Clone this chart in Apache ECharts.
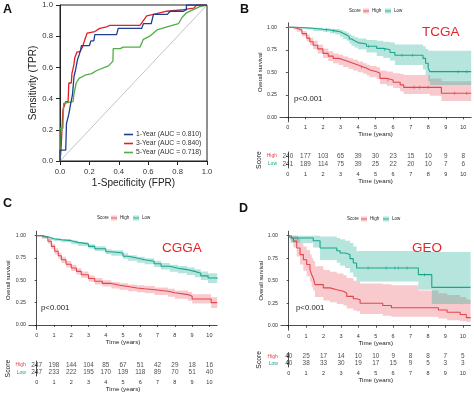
<!DOCTYPE html>
<html><head><meta charset="utf-8">
<script src="https://cdn.jsdelivr.net/npm/echarts@6/dist/echarts.min.js"></script>
<style>html,body{margin:0;padding:0;background:#fff}#c{width:474px;height:394px}</style>
</head><body><div id="c"></div>
<script>
// ---------- Panel A: ROC ----------
const rocNames = ['1-Year (AUC = 0.810)', '3-Year (AUC = 0.840)', '5-Year (AUC = 0.718)'];
const fpr1 = [0, 0, 0.039, 0.044, 0.06, 0.073, 0.084, 0.089, 0.095, 0.105, 0.119, 0.13, 0.14, 0.146, 0.2, 0.21, 0.23, 0.237, 0.385, 0.396, 0.556, 0.567, 0.62, 0.636, 0.73, 0.75, 0.84, 0.86, 0.86, 1];
const tpr1 = [0, 0.07, 0.07, 0.24, 0.30, 0.37, 0.42, 0.47, 0.54, 0.58, 0.65, 0.68, 0.71, 0.74, 0.74, 0.77, 0.77, 0.81, 0.81, 0.85, 0.85, 0.88, 0.88, 0.94, 0.94, 0.96, 0.96, 0.97, 1, 1];
const fpr3 = [0, 0.007, 0.015, 0.02, 0.039, 0.055, 0.06, 0.077, 0.081, 0.095, 0.1, 0.116, 0.134, 0.153, 0.17, 0.185, 0.237, 0.25, 0.27, 0.317, 0.34, 0.544, 0.567, 0.59, 0.636, 0.727, 0.84, 0.91, 0.93, 1];
const tpr3 = [0, 0.07, 0.07, 0.33, 0.38, 0.38, 0.5, 0.5, 0.56, 0.62, 0.66, 0.7, 0.7, 0.73, 0.78, 0.82, 0.83, 0.84, 0.85, 0.86, 0.87, 0.87, 0.9, 0.93, 0.94, 0.96, 0.97, 0.98, 1, 1];
const fpr5 = [0, 0, 0.02, 0.025, 0.034, 0.089, 0.095, 0.11, 0.13, 0.17, 0.215, 0.25, 0.33, 0.36, 0.362, 0.41, 0.43, 0.544, 0.567, 0.61, 0.66, 0.727, 0.806, 0.83, 0.86, 0.95, 1];
const tpr5 = [0, 0.21, 0.21, 0.37, 0.38, 0.38, 0.43, 0.50, 0.53, 0.55, 0.56, 0.58, 0.61, 0.64, 0.72, 0.72, 0.73, 0.73, 0.78, 0.8, 0.84, 0.86, 0.88, 0.92, 0.95, 0.99, 1];

// ---------- KM shared ----------
const years = [0, 1, 2, 3, 4, 5, 6, 7, 8, 9, 10];
const survTicks = [0, 0.25, 0.5, 0.75, 1];

// ---------- Panel B: TCGA ----------
const tcgaHighT = [0, 0.3, 0.5, 0.8, 1.07, 1.25, 1.44, 1.7, 2.0, 2.3, 2.58, 2.9, 3.15, 3.45, 3.72, 4.0, 4.29, 4.5, 4.68, 5.06, 5.25, 5.63, 6.0, 6.4, 6.6, 8.1, 8.75, 10.45];
const tcgaHighS = [1, 0.99, 0.97, 0.93, 0.88, 0.84, 0.80, 0.76, 0.71, 0.68, 0.655, 0.64, 0.62, 0.60, 0.58, 0.56, 0.544, 0.525, 0.507, 0.49, 0.433, 0.414, 0.39, 0.36, 0.333, 0.333, 0.267, 0.267];
const tcgaHighLo = [1, 0.975, 0.95, 0.90, 0.845, 0.80, 0.755, 0.71, 0.66, 0.625, 0.60, 0.58, 0.56, 0.54, 0.52, 0.50, 0.485, 0.465, 0.445, 0.425, 0.37, 0.35, 0.325, 0.29, 0.26, 0.24, 0.18, 0.17];
const tcgaHighHi = [1, 1, 0.99, 0.96, 0.92, 0.885, 0.85, 0.81, 0.765, 0.735, 0.71, 0.695, 0.675, 0.655, 0.64, 0.62, 0.60, 0.585, 0.57, 0.555, 0.52, 0.51, 0.49, 0.48, 0.47, 0.43, 0.40, 0.40];
const tcgaHighCens = [4.2, 5.7, 7.2, 7.5, 8.0, 9.5, 10.2];
const tcgaLowT = [0, 0.5, 1.0, 1.44, 2.0, 2.4, 2.7, 2.97, 3.15, 3.35, 3.5, 3.63, 3.8, 4.0, 4.48, 5.06, 5.44, 5.82, 6.1, 7.7, 7.85, 8.0, 8.1, 10.45];
const tcgaLowS = [1, 0.995, 0.99, 0.978, 0.97, 0.96, 0.95, 0.933, 0.915, 0.896, 0.87, 0.85, 0.83, 0.815, 0.79, 0.766, 0.75, 0.72, 0.69, 0.655, 0.60, 0.544, 0.507, 0.507];
const tcgaLowLo = [1, 0.985, 0.975, 0.96, 0.95, 0.935, 0.92, 0.895, 0.87, 0.85, 0.82, 0.795, 0.775, 0.755, 0.72, 0.68, 0.66, 0.63, 0.58, 0.53, 0.47, 0.40, 0.36, 0.36];
const tcgaLowHi = [1, 1, 1, 0.995, 0.99, 0.985, 0.98, 0.97, 0.955, 0.94, 0.92, 0.905, 0.89, 0.875, 0.86, 0.85, 0.84, 0.83, 0.81, 0.79, 0.76, 0.74, 0.74, 0.74];
const tcgaLowCens = [2.2, 2.6, 4.6, 5.5, 6.5, 7.1, 9.7, 10.2];
const tcgaRiskHigh = [240, 177, 103, 65, 39, 30, 23, 15, 10, 9, 8];
const tcgaRiskLow = [241, 189, 114, 75, 39, 25, 22, 20, 10, 7, 6];

// ---------- Panel C: CGGA ----------
const cggaHighT = [0, 0.3, 0.65, 0.85, 1.04, 1.25, 1.43, 1.7, 2.0, 2.3, 2.58, 3.0, 3.36, 3.8, 4.32, 4.8, 5.29, 5.8, 6.25, 6.83, 7.6, 8.0, 8.76, 9.0, 10.1, 10.45];
const cggaHighS = [1, 0.98, 0.937, 0.88, 0.825, 0.775, 0.73, 0.68, 0.638, 0.60, 0.563, 0.52, 0.489, 0.465, 0.444, 0.43, 0.414, 0.405, 0.395, 0.377, 0.36, 0.34, 0.32, 0.29, 0.25, 0.25];
const cggaHighHi = [1, 0.995, 0.96, 0.91, 0.86, 0.81, 0.765, 0.715, 0.673, 0.635, 0.598, 0.555, 0.525, 0.50, 0.48, 0.466, 0.452, 0.445, 0.436, 0.42, 0.405, 0.387, 0.37, 0.345, 0.31, 0.31];
const cggaHighLo = [1, 0.965, 0.91, 0.85, 0.79, 0.74, 0.695, 0.645, 0.603, 0.565, 0.528, 0.485, 0.453, 0.43, 0.408, 0.394, 0.376, 0.365, 0.354, 0.334, 0.315, 0.293, 0.27, 0.24, 0.19, 0.19];
const cggaLowT = [0, 0.3, 0.7, 1.0, 1.43, 2.0, 2.39, 3.0, 3.36, 4.0, 4.32, 5.0, 5.29, 5.8, 6.25, 6.8, 7.2, 7.7, 8.18, 8.7, 9.15, 9.5, 9.92, 10.45];
const cggaLowS = [1, 0.985, 0.965, 0.955, 0.944, 0.925, 0.907, 0.88, 0.854, 0.82, 0.806, 0.77, 0.75, 0.73, 0.713, 0.685, 0.657, 0.635, 0.62, 0.60, 0.58, 0.55, 0.526, 0.518];
const cggaLowHi = [1, 0.995, 0.98, 0.97, 0.962, 0.945, 0.929, 0.905, 0.881, 0.848, 0.836, 0.80, 0.782, 0.763, 0.747, 0.72, 0.693, 0.673, 0.66, 0.642, 0.625, 0.598, 0.58, 0.578];
const cggaLowLo = [1, 0.975, 0.95, 0.94, 0.926, 0.905, 0.885, 0.855, 0.827, 0.792, 0.776, 0.74, 0.718, 0.697, 0.679, 0.65, 0.621, 0.597, 0.58, 0.558, 0.535, 0.502, 0.471, 0.458];
const cggaRiskHigh = [247, 198, 144, 104, 85, 67, 51, 42, 29, 18, 16];
const cggaRiskLow = [247, 233, 222, 195, 170, 139, 118, 89, 70, 51, 40];

// ---------- Panel D: GEO ----------
const geoHighT = [0, 0.15, 0.27, 0.46, 0.65, 0.84, 1.03, 1.22, 1.32, 1.41, 1.51, 1.99, 2.37, 2.76, 3.14, 3.33, 3.71, 3.9, 4.1, 5.4, 5.9, 7.45, 8.6, 9.1, 9.85, 10.2, 10.45];
const geoHighS = [1, 0.975, 0.94, 0.863, 0.79, 0.733, 0.68, 0.62, 0.567, 0.53, 0.456, 0.42, 0.40, 0.382, 0.363, 0.326, 0.30, 0.289, 0.25, 0.225, 0.20, 0.20, 0.175, 0.15, 0.125, 0.09, 0.09];
const geoHighHi = [1, 1, 1, 0.97, 0.92, 0.88, 0.84, 0.79, 0.75, 0.72, 0.66, 0.62, 0.60, 0.58, 0.56, 0.53, 0.50, 0.49, 0.47, 0.46, 0.45, 0.39, 0.36, 0.34, 0.32, 0.29, 0.29];
const geoHighLo = [1, 0.93, 0.87, 0.77, 0.68, 0.61, 0.55, 0.49, 0.43, 0.39, 0.32, 0.28, 0.26, 0.24, 0.225, 0.19, 0.17, 0.16, 0.13, 0.11, 0.10, 0.10, 0.08, 0.06, 0.05, 0.04, 0.04];
const geoLowT = [0, 0.1, 1.41, 1.8, 2.76, 2.95, 3.24, 3.52, 3.71, 3.9, 7.45, 8.22, 10.45];
const geoLowS = [1, 0.975, 0.944, 0.863, 0.833, 0.808, 0.79, 0.745, 0.697, 0.641, 0.567, 0.426, 0.426];
const geoLowHi = [1, 1, 1, 0.99, 0.975, 0.96, 0.945, 0.92, 0.88, 0.83, 0.82, 0.82, 0.82];
const geoLowLo = [1, 0.92, 0.87, 0.73, 0.70, 0.665, 0.64, 0.59, 0.54, 0.49, 0.40, 0.24, 0.24];
const geoLowCens = [0.5, 4.56, 5.6, 6.1, 6.3, 6.8, 7.8];
const geoRiskHigh = [40, 25, 17, 14, 10, 10, 9, 8, 8, 7, 5];
const geoRiskLow = [40, 38, 33, 30, 19, 17, 15, 9, 5, 3, 3];

// ---------- styling ----------
const F = 'Liberation Sans, Arial, sans-serif';
const AX = '#222';
const RED = '#e2464f', TEAL = '#1ba58c';
const PINK = 'rgba(232,80,90,0.3)', AQUA = 'rgba(27,175,150,0.32)';
const rocColors = ['#1f3f8f', '#e41e26', '#4fae45'];

const grids = [
  {left: 60, top: 5, width: 147, height: 156, show: true, borderColor: AX, borderWidth: 1},
  {left: 280, top: 22.8, width: 191.2, height: 99},
  {left: 280, top: 152, width: 191.2, height: 16},
  {left: 28.9, top: 231.2, width: 188.3, height: 98.2},
  {left: 28.9, top: 361, width: 188.3, height: 15},
  {left: 280.9, top: 231.2, width: 189.7, height: 99},
  {left: 280.9, top: 352.5, width: 189.7, height: 14.5}
];

const xAxes = [], yAxes = [], series = [];
xAxes.push({type: 'value', gridIndex: 0, min: 0, max: 1, interval: 0.2,
  axisLine: {lineStyle: {color: AX}}, axisTick: {length: 4, lineStyle: {color: AX}},
  axisLabel: {fontSize: 7.7, color: '#333', margin: 7, fontFamily: F, formatter: v => v.toFixed(1)},
  splitLine: {show: false},
  name: '1-Specificity (FPR)', nameLocation: 'middle', nameGap: 17,
  nameTextStyle: {fontSize: 10, color: '#222', fontFamily: F}});
yAxes.push({type: 'value', gridIndex: 0, min: 0, max: 1, interval: 0.2,
  axisLine: {lineStyle: {color: AX}}, axisTick: {length: 4, lineStyle: {color: AX}},
  axisLabel: {fontSize: 7.7, color: '#333', margin: 7, fontFamily: F, formatter: v => v.toFixed(1)},
  splitLine: {show: false},
  name: 'Sensitivity (TPR)', nameLocation: 'middle', nameGap: 22,
  nameTextStyle: {fontSize: 10, color: '#222', fontFamily: F}});
series.push({type: 'line', xAxisIndex: 0, yAxisIndex: 0, data: [[0, 0], [1, 1]], showSymbol: false,
  lineStyle: {color: '#c4c4c4', width: 1}, z: 1, silent: true});
[[fpr1, tpr1], [fpr3, tpr3], [fpr5, tpr5]].forEach((p, k) => {
  series.push({type: 'line', name: rocNames[k], xAxisIndex: 0, yAxisIndex: 0,
    data: p[0].map((x, i) => [x, p[1][i]]), showSymbol: false, color: rocColors[k],
    lineStyle: {width: 1.3, color: rocColors[k]}, z: k === 0 ? 5 : 3});
});

function kmAxes(mainIdx, riskIdx, yGap, scoreGap) {
  const xBase = (g) => ({type: 'value', gridIndex: g, min: -0.45, max: 10.45,
    axisLine: {lineStyle: {color: AX, width: 0.8}},
    axisTick: {length: 2, customValues: years, lineStyle: {color: AX, width: 0.8}},
    axisLabel: {customValues: years, fontSize: 5.5, color: '#333', margin: 3, fontFamily: F},
    splitLine: {show: false},
    name: 'Time (years)', nameLocation: 'middle', nameGap: 9,
    nameTextStyle: {fontSize: 6.2, color: '#222', fontFamily: F}});
  xAxes.push(xBase(mainIdx));
  xAxes.push(xBase(riskIdx));
  yAxes.push({type: 'value', gridIndex: mainIdx, min: -0.05, max: 1.05,
    axisLine: {show: true, lineStyle: {color: AX, width: 0.8}},
    axisTick: {show: true, length: 2, customValues: survTicks, lineStyle: {color: AX, width: 0.8}},
    axisLabel: {customValues: survTicks, fontSize: 5.2, color: '#333', margin: 3, fontFamily: F,
      formatter: v => v.toFixed(2)},
    splitLine: {show: false},
    name: 'Overall survival', nameLocation: 'middle', nameGap: yGap,
    nameTextStyle: {fontSize: 5.8, color: '#222', fontFamily: F}});
  yAxes.push({type: 'category', gridIndex: riskIdx, data: ['Low', 'High'],
    axisLine: {show: true, lineStyle: {color: AX, width: 0.8}},
    axisTick: {show: true, length: 2, alignWithLabel: true, lineStyle: {color: AX, width: 0.8}},
    axisLabel: {fontSize: 5, margin: 3, fontFamily: F, color: v => (v === 'High' ? RED : TEAL)},
    name: 'Score', nameLocation: 'middle', nameGap: scoreGap,
    nameTextStyle: {fontSize: 6.8, color: '#222', fontFamily: F}});
}

// confidence band drawn as a step polygon through the axes' scales
function kmBand(axIdx, t, lo, hi, fill) {
  series.push({type: 'custom', xAxisIndex: axIdx, yAxisIndex: axIdx, silent: true, z: 1,
    data: [[0, 0]],
    renderItem: (params, api) => {
      const up = [], dn = [];
      for (let i = 0; i < t.length; i++) {
        const xn = i < t.length - 1 ? t[i + 1] : t[i];
        up.push(api.coord([t[i], hi[i]]), api.coord([xn, hi[i]]));
        dn.push(api.coord([t[i], lo[i]]), api.coord([xn, lo[i]]));
      }
      return {type: 'polygon', shape: {points: up.concat(dn.reverse())}, style: {fill: fill}};
    }});
}
function stepAt(t, s, x) {
  let v = s[0];
  for (let i = 0; i < t.length; i++) { if (t[i] <= x) v = s[i]; }
  return v;
}
function kmLine(axIdx, name, t, s, color, cens) {
  series.push({type: 'line', name: name, xAxisIndex: axIdx, yAxisIndex: axIdx, step: 'end',
    data: t.map((x, i) => [x, s[i]]), showSymbol: false, color: color,
    lineStyle: {color: color, width: 1.1}, z: 3});
  if (cens && cens.length) {
    series.push({type: 'scatter', xAxisIndex: axIdx, yAxisIndex: axIdx, silent: true, z: 4,
      data: cens.map(c => [c, stepAt(t, s, c)]), symbol: 'rect', symbolSize: [0.8, 3],
      itemStyle: {color: color}});
  }
}
function riskTable(axIdx, highN, lowN) {
  const d = [];
  years.forEach((y, i) => { d.push([y, 1, highN[i]]); d.push([y, 0, lowN[i]]); });
  series.push({type: 'scatter', xAxisIndex: axIdx, yAxisIndex: axIdx, data: d, symbolSize: 1,
    itemStyle: {color: 'transparent'}, silent: true,
    label: {show: true, position: 'inside', formatter: p => String(p.value[2]),
      fontSize: 6.4, color: '#222', fontFamily: F}});
}

kmAxes(1, 2, 16, 16.5);
kmAxes(3, 4, 18, 17);
kmAxes(5, 6, 16, 18);

kmBand(1, tcgaHighT, tcgaHighLo, tcgaHighHi, PINK);
kmBand(1, tcgaLowT, tcgaLowLo, tcgaLowHi, AQUA);
kmLine(1, 'High', tcgaHighT, tcgaHighS, RED, tcgaHighCens);
kmLine(1, 'Low', tcgaLowT, tcgaLowS, TEAL, tcgaLowCens);
riskTable(2, tcgaRiskHigh, tcgaRiskLow);

kmBand(3, cggaHighT, cggaHighLo, cggaHighHi, PINK);
kmBand(3, cggaLowT, cggaLowLo, cggaLowHi, AQUA);
kmLine(3, 'High', cggaHighT, cggaHighS, RED);
kmLine(3, 'Low', cggaLowT, cggaLowS, TEAL);
riskTable(4, cggaRiskHigh, cggaRiskLow);

kmBand(5, geoHighT, geoHighLo, geoHighHi, PINK);
kmBand(5, geoLowT, geoLowLo, geoLowHi, AQUA);
kmLine(5, 'High', geoHighT, geoHighS, RED);
kmLine(5, 'Low', geoLowT, geoLowS, TEAL, geoLowCens);
riskTable(6, geoRiskHigh, geoRiskLow);

// ---------- graphics: labels and KM legends ----------
const gfx = [];
function txt(x, y, s, size, color, extra) {
  gfx.push({type: 'text', x: x, y: y, silent: true,
    style: Object.assign({text: s, fontSize: size, fill: color, fontFamily: F, verticalAlign: 'middle'}, extra || {})});
}
txt(3, 10, 'A', 12.5, '#111', {fontWeight: 'bold'});
txt(240, 10, 'B', 12.5, '#111', {fontWeight: 'bold'});
txt(3, 204, 'C', 12.5, '#111', {fontWeight: 'bold'});
txt(239, 209, 'D', 12.5, '#111', {fontWeight: 'bold'});
txt(422, 32, 'TCGA', 13.5, '#e3262c');
txt(162, 248, 'CGGA', 13.5, '#e3262c');
txt(412, 248, 'GEO', 13.5, '#e3262c');
txt(294, 99, 'p<0.001', 7.8, '#222');
txt(41, 308, 'p<0.001', 7.8, '#222');
txt(296, 308, 'p<0.001', 7.8, '#222');
function kmLegend(x, y) {
  txt(x, y, 'Score', 4.5, '#222');
  [[x + 14, PINK, RED, 'High'], [x + 36, AQUA, TEAL, 'Low']].forEach(it => {
    gfx.push({type: 'rect', silent: true, shape: {x: it[0], y: y - 2.5, width: 6, height: 5},
      style: {fill: it[1]}});
    gfx.push({type: 'line', silent: true, shape: {x1: it[0], y1: y, x2: it[0] + 6, y2: y},
      style: {stroke: it[2], lineWidth: 0.8}});
    txt(it[0] + 9, y, it[3], 4.5, '#222');
  });
}
kmLegend(349, 11);
kmLegend(97, 218);
kmLegend(347, 219);

const chart = echarts.init(document.getElementById('c'), null, {renderer: 'canvas'});
chart.setOption({
  animation: false,
  backgroundColor: '#fff',
  grid: grids,
  xAxis: xAxes,
  yAxis: yAxes,
  legend: [{data: rocNames, left: 124, top: 131, orient: 'vertical', icon: 'rect',
    itemWidth: 9, itemHeight: 1.6, itemGap: 2, padding: 0,
    textStyle: {fontSize: 6.8, color: '#333', fontFamily: F, lineHeight: 7, padding: [0, 0, 0, -2]}}],
  series: series,
  graphic: gfx
});
</script></body></html>
